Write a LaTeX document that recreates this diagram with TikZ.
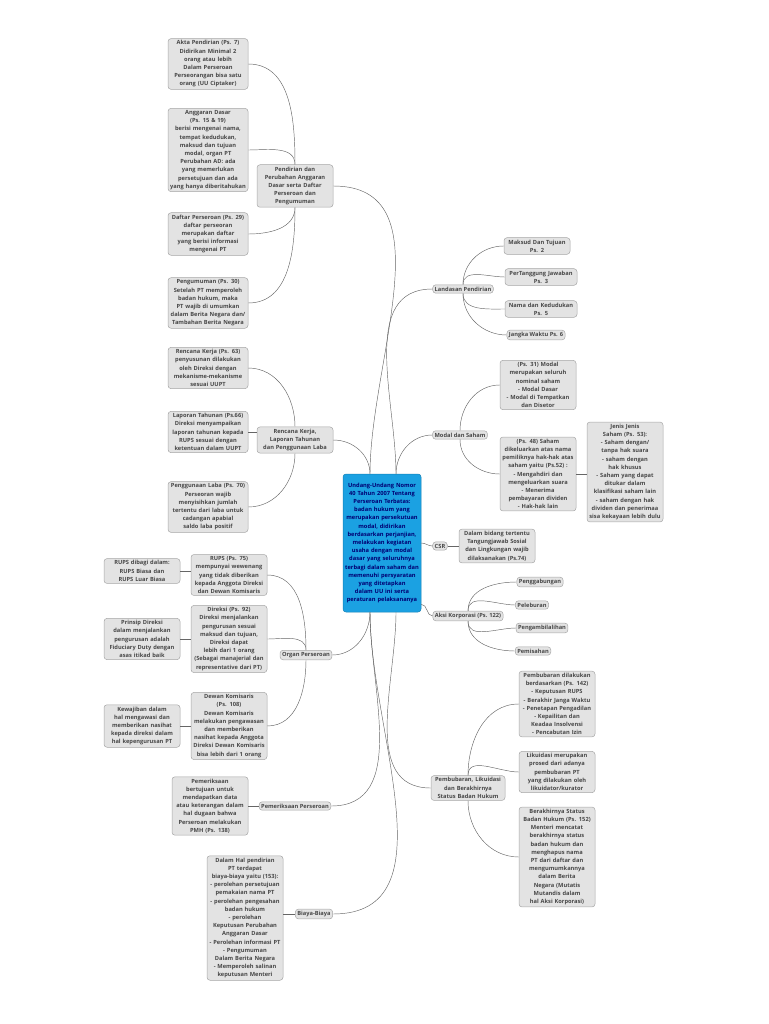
\documentclass[tikz,border=0pt]{standalone}
\usepackage{fontspec}
\setmainfont{Open Sans}
\begin{document}
\hyphenpenalty=10000
\exhyphenpenalty=10000
\tolerance=9999
\emergencystretch=5pt
\begin{tikzpicture}[x=1pt,y=-1pt,
 box/.style={draw=gray!70,fill=gray!22,rounded corners=3pt,align=center,inner sep=2pt,
   font=\fontsize{5.7}{8.2}\selectfont\bfseries,text=black!72,line width=0.5pt},
 w/.style={text width=#1},
 conn/.style={draw=gray!80!black,line width=0.45pt}]
\useasboundingbox (0,0) rectangle (768,1024);
% central
\definecolor{cblue}{HTML}{1BA1E2}
\node[box,w=74,fill=cblue,draw=cblue!80!black,text=blue!45!black,minimum height=138] (c) at (382,543)
 {Undang-Undang Nomor 40 Tahun 2007 Tentang Perseroan Terbatas: badan hukum yang merupakan persekutuan modal, didirikan berdasarkan perjanjian, melakukan kegiatan usaha dengan modal dasar yang seluruhnya terbagi dalam saham dan memenuhi persyaratan yang ditetapkan dalam UU ini serta peraturan pelaksananya};
\coordinate (ctl) at (370,474); \coordinate (ctr) at (396,474);
\coordinate (cbl) at (370,612); \coordinate (cbr) at (396,612);
% left top
\node[box,w=76] (akta) at (208,64) {Akta Pendirian (Ps. 7)\\Didirikan Minimal 2\\orang atau lebih Dalam Perseroan Perseorangan bisa satu orang (UU Ciptaker)};
\node[box,w=76] (ad) at (208,150) {Anggaran Dasar (Ps. 15 \& 19)\\berisi mengenai nama, tempat kedudukan, maksud dan tujuan modal, organ PT Perubahan AD: ada yang memerlukan persetujuan dan ada yang hanya diberitahukan};
\node[box,w=76] (dp) at (208,234) {Daftar Perseroan (Ps. 29)\\daftar perseoran merupakan daftar yang berisi informasi mengenai PT};
\node[box,w=76] (peng) at (208,303) {Pengumuman (Ps. 30)\\Setelah PT memperoleh badan hukum, maka PT wajib di umumkan dalam Berita Negara dan/ Tambahan Berita Negara};
\node[box,w=72] (pend) at (295,186) {Pendirian dan Perubahan Anggaran Dasar serta Daftar Perseroan dan Pengumuman};
% rencana
\node[box,w=76] (rk) at (208,368) {Rencana Kerja (Ps. 63)\\penyusunan dilakukan oleh Direksi dengan mekanisme-mekanisme sesuai UUPT};
\node[box,w=76] (lt) at (208,432) {Laporan Tahunan (Ps.66)\\Direksi menyampaikan laporan tahunan kepada RUPS sesuai dengan ketentuan dalam UUPT};
\node[box,w=76] (pl) at (208,507) {Penggunaan Laba (Ps. 70)\\Perseoran wajib menyisihkan jumlah tertentu dari laba untuk cadangan apabial saldo laba positif};
\node[box,w=72] (ren) at (295,440) {Rencana Kerja, Laporan Tahunan dan Penggunaan Laba};
% organ
\node[box,w=72] (rupsn) at (142,571) {RUPS dibagi dalam: RUPS Biasa dan RUPS Luar Biasa};
\node[box,w=72] (rups) at (229,575) {RUPS (Ps. 75)\\mempunyai wewenang yang tidak diberikan kepada Anggota Direksi dan Dewan Komisaris};
\node[box,w=72] (prin) at (142,639) {Prinsip Direksi dalam menjalankan pengurusan adalah Fiduciary Duty dengan asas itikad baik};
\node[box,w=72] (dir) at (229,639) {Direksi (Ps. 92)\\Direksi menjalankan pengurusan sesuai maksud dan tujuan, Direksi dapat lebih dari 1 orang\\(Sebagai manajerial dan representative dari PT)};
\node[box,w=72] (kew) at (142,726) {Kewajiban dalam hal mengawasi dan memberikan nasihat kepada direksi dalam hal kepengurusan PT};
\node[box,w=72] (dk) at (229,726) {Dewan Komisaris (Ps. 108)\\Dewan Komisaris melakukan pengawasan dan memberikan nasihat kepada Anggota Direksi Dewan Komisaris bisa lebih dari 1 orang};
\node[box] (org) at (306,655) {Organ Perseroan};
% pemeriksaan
\node[box,w=72] (pemb) at (210,806) {Pemeriksaan bertujuan untuk mendapatkan data atau keterangan dalam hal dugaan bahwa Perseroan melakukan PMH (Ps. 138)};
\node[box] (pem) at (295,806) {Pemeriksaan Perseroan};
\node[box,w=72] (bb) at (245,918) {Dalam Hal pendirian PT terdapat biaya-biaya yaitu (153):\\- perolehan persetujuan pemakaian nama PT\\- perolehan pengesahan badan hukum\\- perolehan Keputusan Perubahan Anggaran Dasar\\- Perolehan informasi PT\\- Pengumuman Dalam Berita Negara\\- Memperoleh salinan keputusan Menteri};
\node[box] (bi) at (314,914) {Biaya-Biaya};
% right
\node[box] (lan) at (463,289) {Landasan Pendirian};
\node[box,w=62] (mk) at (537,246) {Maksud Dan Tujuan\\Ps. 2};
\node[box,w=68] (pt) at (541,277) {PerTanggung Jawaban\\Ps. 3};
\node[box,w=68] (nk) at (541,309) {Nama dan Kedudukan\\Ps. 5};
\node[box] (jw) at (536,335) {Jangka Waktu Ps. 6};
\node[box] (ms) at (460,435) {Modal dan Saham};
\node[box,w=72] (p31) at (538,385) {(Ps. 31) Modal merupakan seluruh nominal saham\\- Modal Dasar\\- Modal di Tempatkan dan Disetor};
\node[box,w=72] (p48) at (538,474) {(Ps. 48) Saham dikeluarkan atas nama pemiliknya hak-hak atas saham yaitu (Ps.52) :\\- Mengahdiri dan mengeluarkan suara\\- Menerima pembayaran dividen\\- Hak-hak lain};
\node[box,w=72] (jen) at (625,472) {Jenis Jenis Saham (Ps. 53):\\- Saham dengan/ tanpa hak suara\\- saham dengan hak khusus\\- Saham yang dapat ditukar dalam klasifikasi saham lain\\- saham dengan hak dividen dan penerimaa sisa kekayaan lebih dulu};
\node[box] (csr) at (440,546) {CSR};
\node[box,w=72] (csrb) at (497,546) {Dalam bidang tertentu Tangungjawab Sosial dan Lingkungan wajib dilaksanakan (Ps.74)};
\node[box] (aksi) at (468,616) {Aksi Korporasi (Ps. 122)};
\node[box] (gab) at (540,582) {Penggabungan};
\node[box] (leb) at (532,605) {Peleburan};
\node[box] (amb) at (542,628) {Pengambilalihan};
\node[box] (pis) at (533,651) {Pemisahan};
\node[box,w=70] (bub) at (468,788) {Pembubaran, Likuidasi dan Berakhirnya Status Badan Hukum};
\node[box,w=72] (bub1) at (557,704) {Pembubaran dilakukan berdasarkan (Ps. 142)\\- Keputusan RUPS\\- Berakhir Janga Waktu\\- Penetapan Pengadilan\\- Kepailitan dan Keadaa Insolvensi\\- Pencabutan Izin};
\node[box,w=72] (lik) at (557,772) {Likuidasi merupakan prosed dari adanya pembubaran PT yang dilakukan oleh likuidator/kurator};
\node[box,w=72] (ber) at (557,857) {Berakhirnya Status Badan Hukum (Ps. 152)\\Menteri mencatat berakhirnya status badan hukum dan menghapus nama PT dari daftar dan mengumumkannya dalam Berita Negara (Mutatis Mutandis dalam hal Aksi Korporasi)};
% connectors central
\draw[conn] (ctl) to[out=90,in=0] (pend.east);
\draw[conn] (ctl) to[out=90,in=0] (ren.east);
\draw[conn] (cbl) to[out=-90,in=0] (org.east);
\draw[conn] (cbl) to[out=-90,in=0] (pem.east);
\draw[conn] (cbl) to[out=-90,in=0] (bi.east);
\draw[conn] (ctr) to[out=90,in=180] (lan.west);
\draw[conn] (ctr) to[out=90,in=180] (ms.west);
\draw[conn] (c.east) to[out=0,in=180] (csr.west);
\draw[conn] (c.south east) ++(0,-8) to[out=0,in=180] (aksi.west);
\draw[conn] (cbr) to[out=-90,in=180] (bub.west);
% pendirian
\draw[conn] (akta.east) to[out=0,in=90] (pend.north);
\draw[conn] (ad.east) to[out=0,in=90] (pend.north);
\draw[conn] (dp.east) to[out=0,in=-90] (pend.south);
\draw[conn] (peng.east) to[out=0,in=-90] (pend.south);
\draw[conn] (rk.east) to[out=0,in=90] (ren.north);
\draw[conn] (lt.east) -- (lt.east -| ren.west);
\draw[conn] (pl.east) to[out=0,in=-90] (ren.south);
\draw[conn] (rups.east) to[out=0,in=90] (org.north);
\draw[conn] (dir.east) to[out=0,in=90] (org.north);
\draw[conn] (dk.east) to[out=0,in=-90] (org.south);
\draw[conn] (rupsn.east) -- (rups.west |- rupsn.east);
\draw[conn] (prin.east) -- (dir.west |- prin.east);
\draw[conn] (kew.east) -- (dk.west |- kew.east);
\draw[conn] (pemb.east) -- (pem.west);
\draw[conn] (bb.east |- bi.west) -- (bi.west);
% right side
\draw[conn] (mk.west) to[out=180,in=90] (lan.north);
\draw[conn] (pt.west) to[out=180,in=90] (lan.north);
\draw[conn] (nk.west) to[out=180,in=-90] (lan.south);
\draw[conn] (jw.west) to[out=180,in=-90] (lan.south);
\draw[conn] (p31.west) to[out=180,in=90] (ms.north);
\draw[conn] (p48.west) to[out=180,in=-90] (ms.south);
\draw[conn] (p48.east) -- (jen.west |- p48.east);
\draw[conn] (csr.east) -- (csrb.west);
\draw[conn] (gab.west) to[out=180,in=90] (aksi.north);
\draw[conn] (leb.west) to[out=180,in=90] (aksi.north);
\draw[conn] (amb.west) to[out=180,in=-90] (aksi.south);
\draw[conn] (pis.west) to[out=180,in=-90] (aksi.south);
\draw[conn] (bub1.west) to[out=180,in=90] (bub.north);
\draw[conn] (lik.west) to[out=180,in=90] (bub.north);
\draw[conn] (ber.west) to[out=180,in=-90] (bub.south);
\end{tikzpicture}
\end{document}
